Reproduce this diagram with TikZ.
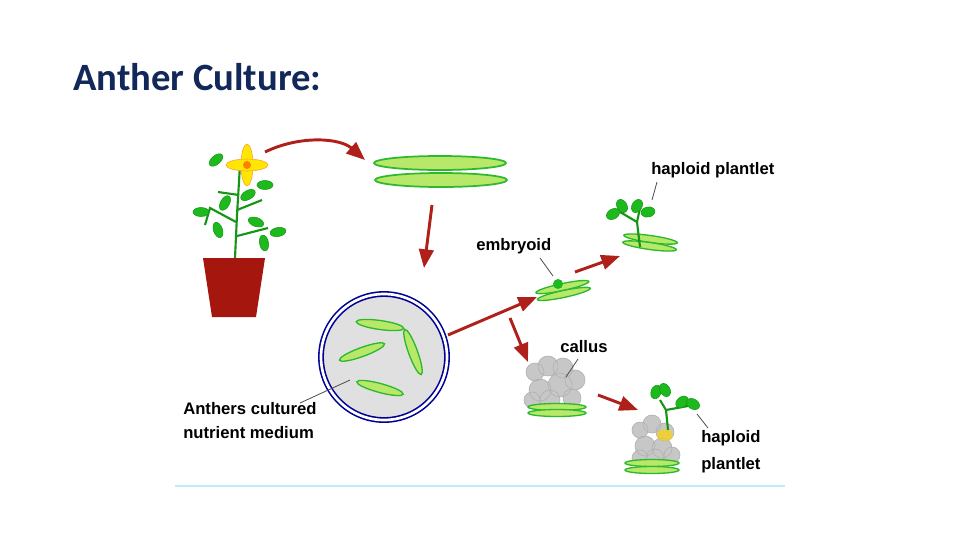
\documentclass[tikz,border=0pt]{standalone}
\usepackage{fontspec}
\setmainfont{Liberation Sans}
\newfontfamily\titlefont{Carlito}
\usetikzlibrary{arrows.meta}
\definecolor{arr}{HTML}{B0201A}
\definecolor{leafg}{HTML}{1DBA1D}
\definecolor{anth}{HTML}{B8E86A}
\definecolor{anthb}{HTML}{2DB82D}
\definecolor{navy}{HTML}{12285A}
\definecolor{potred}{HTML}{A5160F}
\tikzset{
 redarrow/.style={draw=arr, line width=2.2pt, -{Triangle[length=14pt,width=11pt]}},
 anther/.style={fill=anth, draw=anthb, line width=1.3pt},
 leaf/.style={fill=leafg, draw=leafg!80!black, line width=0.4pt},
 lbl/.style={font=\bfseries\fontsize{12.5}{18}\selectfont, inner sep=0pt, align=left},
 ptr/.style={draw=black!70, line width=0.6pt},
 callusg/.style={fill=black!22, draw=black!30, line width=0.5pt},
 stem/.style={draw=leafg!80!black, line width=1.6pt}
}
\begin{document}
\begin{tikzpicture}[x=0.75pt,y=-0.75pt]
\useasboundingbox (0,0) rectangle (960,540);
\fill[white] (0,0) rectangle (960,540);
\node[anchor=west, text=navy, font=\titlefont\bfseries\fontsize{29}{32}\selectfont, inner sep=0pt] (title) at (73,77) {Anther Culture:};
% plant
\fill[potred] (203,258) -- (265,258) -- (256,317) -- (212,317) -- cycle;
\draw[stem] (235,258) -- (237,215) -- (240,165);
\draw[stem] (236,222) -- (210,208) -- (205,225);
\draw[stem] (237,210) -- (262,200);
\draw[stem] (237,236) -- (268,228);
\draw[stem] (239,195) -- (218,192);
\foreach \x/\y/\a in {216/160/40, 218/230/-70, 201/212/0, 256/222/-20, 278/232/10, 265/185/0, 248/195/30, 225/203/60, 264/243/-80}
  \fill[leaf,rotate around={\a:(\x,\y)}] (\x,\y) ellipse (8 and 4.5);
\fill[yellow!90!orange, draw=orange!80, line width=0.4pt] (247,165) ellipse (6 and 21);
\fill[yellow!90!orange, draw=orange!80, line width=0.4pt] (247,165) ellipse (21 and 6);
\fill[orange] (247,165) circle (4);
% anthers top
\fill[anther] (440,163) ellipse (66 and 7);
\fill[anther] (441,180) ellipse (66 and 7);
\coordinate (plantTop) at (265,152);
\coordinate (anthL) at (365,160);
\draw[redarrow] (plantTop) .. controls (300,135) and (340,138) .. (anthL);
\coordinate (anthB) at (432,205);
\coordinate (dishT) at (424,268);
\draw[redarrow] (anthB) -- (dishT);
% dish
\node[circle, minimum size=126pt*0.75, draw=blue!60!black, line width=1.2pt, fill=black!12, double=white, double distance=2pt] (dish) at (384,357) {};
\foreach \x/\y/\a in {380/325/-8, 362/352/20, 413/352/-70, 380/388/-15}
  \fill[anther, line width=1pt, rotate around={\a:(\x,\y)}] (\x,\y) ellipse (24 and 4.5);
\node[lbl, anchor=north west] (lab1) at (183,402) {Anthers cultured\\nutrient medium};
\draw[ptr] (300,403) -- (350,380);
% embryoid
\coordinate (d1) at (448,335); \coordinate (e1) at (537,297);
\draw[redarrow] (d1) -- (e1);
\coordinate (d2) at (510,318); \coordinate (c1) at (528,362);
\draw[redarrow] (d2) -- (c1);
\fill[anther, line width=1pt, rotate around={12:(563,290)}] (563,287) ellipse (27 and 3.5);
\fill[anther, line width=1pt, rotate around={12:(563,290)}] (563,294) ellipse (27 and 3.5);
\fill[leafg] (558,284) ellipse (5 and 5);
\node[lbl, anchor=west] (emb) at (476,246) {embryoid};
\draw[ptr] (540,258) -- (553,276);
\coordinate (e2) at (575,272); \coordinate (p1) at (620,256);
\draw[redarrow] (e2) -- (p1);
% top plantlet
\fill[anther, line width=1pt, rotate around={-8:(650,243)}] (650,239) ellipse (27 and 3.5);
\fill[anther, line width=1pt, rotate around={-8:(650,243)}] (650,246) ellipse (27 and 3.5);
\draw[stem] (640,247) -- (637,222) -- (620,212);
\draw[stem] (637,222) -- (640,208);
\foreach \x/\y/\a in {613/214/30, 622/206/-60, 637/206/60, 648/212/10}
  \fill[leaf,rotate around={\a:(\x,\y)}] (\x,\y) ellipse (7 and 5);
\node[lbl, anchor=west] (hap1) at (651,170) {haploid plantlet};
\draw[ptr] (657,182) -- (652,200);
% callus
\fill[callusg] (535,372) circle (9) (548,366) circle (10) (563,368) circle (10) (575,380) circle (10) (560,385) circle (12) (540,390) circle (11) (572,398) circle (9) (550,400) circle (10) (532,400) circle (8);
\fill[anther, line width=1pt] (557,407) ellipse (29 and 3.5);
\fill[anther, line width=1pt] (557,413) ellipse (29 and 3.5);
\node[lbl, anchor=west] (cal) at (560,347) {callus};
\draw[ptr] (578,359) -- (566,377);
\coordinate (c2) at (598,395); \coordinate (p2) at (638,410);
\draw[redarrow] (c2) -- (p2);
% bottom plantlet
\fill[callusg] (640,430) circle (8) (652,424) circle (9) (665,432) circle (9) (645,446) circle (10) (662,448) circle (10) (640,458) circle (8) (672,455) circle (8) (655,458) circle (9);
\fill[anther, line width=1pt] (652,463) ellipse (27 and 3.5);
\fill[anther, line width=1pt] (652,470) ellipse (27 and 3.5);
\fill[yellow!70!orange, opacity=0.7] (665,435) ellipse (8 and 6);
\draw[stem] (668,430) -- (666,410) -- (660,400);
\draw[stem] (666,410) -- (688,406);
\foreach \x/\y/\a in {656/392/70, 665/390/-60, 682/402/40, 693/404/-30}
  \fill[leaf,rotate around={\a:(\x,\y)}] (\x,\y) ellipse (7 and 5);
\node[lbl, anchor=north west] (hap2) at (701,430) {haploid\\[2pt]plantlet};
\draw[ptr] (697,414) -- (708,428);
% bottom line
\draw[cyan!25, line width=1pt] (175,486) -- (785,486);
\end{tikzpicture}
\end{document}
